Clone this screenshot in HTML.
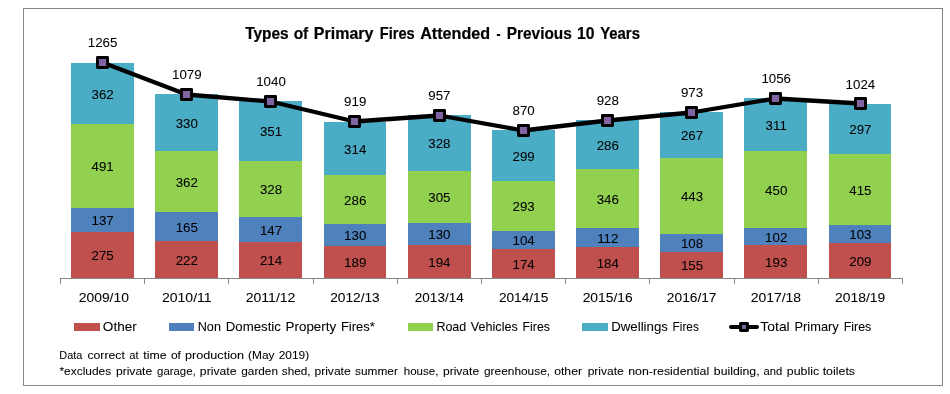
<!DOCTYPE html>
<html><head><meta charset="utf-8"><style>
html,body{margin:0;padding:0;background:#fff;width:950px;height:394px;overflow:hidden}
svg{display:block;will-change:transform}
text{font-family:"Liberation Sans", sans-serif;fill:#000}
.l{font-size:13.3px;stroke:#000;stroke-width:0.06px}
.t{font-size:16.2px;font-weight:bold;stroke:#000;stroke-width:0.2px}
.f{font-size:11.6px;stroke:#000;stroke-width:0.06px}
</style></head><body>
<svg width="950" height="394" viewBox="0 0 950 394">
<rect x="23.5" y="8.5" width="919" height="377" fill="#fff" stroke="#868686" stroke-width="1"/>
<rect x="71" y="232" width="63" height="46" fill="#C0504D"/>
<rect x="71" y="208" width="63" height="24" fill="#4F81BD"/>
<rect x="71" y="124" width="63" height="84" fill="#92D050"/>
<rect x="71" y="63" width="63" height="61" fill="#4BACC6"/>
<rect x="155" y="241" width="63" height="37" fill="#C0504D"/>
<rect x="155" y="212" width="63" height="29" fill="#4F81BD"/>
<rect x="155" y="151" width="63" height="61" fill="#92D050"/>
<rect x="155" y="94" width="63" height="57" fill="#4BACC6"/>
<rect x="239" y="242" width="63" height="36" fill="#C0504D"/>
<rect x="239" y="217" width="63" height="25" fill="#4F81BD"/>
<rect x="239" y="161" width="63" height="56" fill="#92D050"/>
<rect x="239" y="101" width="63" height="60" fill="#4BACC6"/>
<rect x="324" y="246" width="62" height="32" fill="#C0504D"/>
<rect x="324" y="224" width="62" height="22" fill="#4F81BD"/>
<rect x="324" y="175" width="62" height="49" fill="#92D050"/>
<rect x="324" y="122" width="62" height="53" fill="#4BACC6"/>
<rect x="408" y="245" width="63" height="33" fill="#C0504D"/>
<rect x="408" y="223" width="63" height="22" fill="#4F81BD"/>
<rect x="408" y="171" width="63" height="52" fill="#92D050"/>
<rect x="408" y="115" width="63" height="56" fill="#4BACC6"/>
<rect x="492" y="249" width="63" height="29" fill="#C0504D"/>
<rect x="492" y="231" width="63" height="18" fill="#4F81BD"/>
<rect x="492" y="181" width="63" height="50" fill="#92D050"/>
<rect x="492" y="130" width="63" height="51" fill="#4BACC6"/>
<rect x="576" y="247" width="63" height="31" fill="#C0504D"/>
<rect x="576" y="228" width="63" height="19" fill="#4F81BD"/>
<rect x="576" y="169" width="63" height="59" fill="#92D050"/>
<rect x="576" y="120" width="63" height="49" fill="#4BACC6"/>
<rect x="660" y="252" width="63" height="26" fill="#C0504D"/>
<rect x="660" y="234" width="63" height="18" fill="#4F81BD"/>
<rect x="660" y="158" width="63" height="76" fill="#92D050"/>
<rect x="660" y="112" width="63" height="46" fill="#4BACC6"/>
<rect x="744" y="245" width="63" height="33" fill="#C0504D"/>
<rect x="744" y="228" width="63" height="17" fill="#4F81BD"/>
<rect x="744" y="151" width="63" height="77" fill="#92D050"/>
<rect x="744" y="98" width="63" height="53" fill="#4BACC6"/>
<rect x="829" y="243" width="62" height="35" fill="#C0504D"/>
<rect x="829" y="225" width="62" height="18" fill="#4F81BD"/>
<rect x="829" y="154" width="62" height="71" fill="#92D050"/>
<rect x="829" y="104" width="62" height="50" fill="#4BACC6"/>
<path d="M60.0 278.5 H903.0" stroke="#868686" stroke-width="1" fill="none"/>
<path d="M60.5 278.0 V284.0" stroke="#868686" stroke-width="1" fill="none"/>
<path d="M144.5 278.0 V284.0" stroke="#868686" stroke-width="1" fill="none"/>
<path d="M228.5 278.0 V284.0" stroke="#868686" stroke-width="1" fill="none"/>
<path d="M313.5 278.0 V284.0" stroke="#868686" stroke-width="1" fill="none"/>
<path d="M397.5 278.0 V284.0" stroke="#868686" stroke-width="1" fill="none"/>
<path d="M481.5 278.0 V284.0" stroke="#868686" stroke-width="1" fill="none"/>
<path d="M565.5 278.0 V284.0" stroke="#868686" stroke-width="1" fill="none"/>
<path d="M649.5 278.0 V284.0" stroke="#868686" stroke-width="1" fill="none"/>
<path d="M734.5 278.0 V284.0" stroke="#868686" stroke-width="1" fill="none"/>
<path d="M818.5 278.0 V284.0" stroke="#868686" stroke-width="1" fill="none"/>
<path d="M902.5 278.0 V284.0" stroke="#868686" stroke-width="1" fill="none"/>
<text x="102.60" y="260" text-anchor="middle" class="l">275</text>
<text x="102.60" y="225" text-anchor="middle" class="l">137</text>
<text x="102.60" y="171" text-anchor="middle" class="l">491</text>
<text x="102.60" y="99" text-anchor="middle" class="l">362</text>
<text x="186.80" y="265" text-anchor="middle" class="l">222</text>
<text x="186.80" y="232" text-anchor="middle" class="l">165</text>
<text x="186.80" y="187" text-anchor="middle" class="l">362</text>
<text x="186.80" y="128" text-anchor="middle" class="l">330</text>
<text x="271.00" y="265" text-anchor="middle" class="l">214</text>
<text x="271.00" y="235" text-anchor="middle" class="l">147</text>
<text x="271.00" y="194" text-anchor="middle" class="l">328</text>
<text x="271.00" y="136" text-anchor="middle" class="l">351</text>
<text x="355.20" y="267" text-anchor="middle" class="l">189</text>
<text x="355.20" y="240" text-anchor="middle" class="l">130</text>
<text x="355.20" y="205" text-anchor="middle" class="l">286</text>
<text x="355.20" y="154" text-anchor="middle" class="l">314</text>
<text x="439.40" y="267" text-anchor="middle" class="l">194</text>
<text x="439.40" y="239" text-anchor="middle" class="l">130</text>
<text x="439.40" y="202" text-anchor="middle" class="l">305</text>
<text x="439.40" y="148" text-anchor="middle" class="l">328</text>
<text x="523.60" y="269" text-anchor="middle" class="l">174</text>
<text x="523.60" y="245" text-anchor="middle" class="l">104</text>
<text x="523.60" y="211" text-anchor="middle" class="l">293</text>
<text x="523.60" y="161" text-anchor="middle" class="l">299</text>
<text x="607.80" y="268" text-anchor="middle" class="l">184</text>
<text x="607.80" y="243" text-anchor="middle" class="l">112</text>
<text x="607.80" y="204" text-anchor="middle" class="l">346</text>
<text x="607.80" y="150" text-anchor="middle" class="l">286</text>
<text x="692.00" y="270" text-anchor="middle" class="l">155</text>
<text x="692.00" y="248" text-anchor="middle" class="l">108</text>
<text x="692.00" y="201" text-anchor="middle" class="l">443</text>
<text x="692.00" y="140" text-anchor="middle" class="l">267</text>
<text x="776.20" y="267" text-anchor="middle" class="l">193</text>
<text x="776.20" y="242" text-anchor="middle" class="l">102</text>
<text x="776.20" y="195" text-anchor="middle" class="l">450</text>
<text x="776.20" y="130" text-anchor="middle" class="l">311</text>
<text x="860.40" y="266" text-anchor="middle" class="l">209</text>
<text x="860.40" y="239" text-anchor="middle" class="l">103</text>
<text x="860.40" y="195" text-anchor="middle" class="l">415</text>
<text x="860.40" y="134" text-anchor="middle" class="l">297</text>
<polyline points="102.50,62.50 186.50,94.50 270.50,101.50 354.50,121.50 439.50,115.50 523.50,130.50 607.50,120.50 691.50,112.50 775.50,98.50 860.50,103.50" fill="none" stroke="#000" stroke-width="4.3" stroke-linejoin="round"/>
<rect x="97.45" y="57.45" width="10.1" height="10.1" fill="#8064A2" stroke="#000" stroke-width="2.9" stroke-linejoin="round"/>
<text x="102.60" y="47" text-anchor="middle" class="l">1265</text>
<rect x="181.45" y="89.45" width="10.1" height="10.1" fill="#8064A2" stroke="#000" stroke-width="2.9" stroke-linejoin="round"/>
<text x="186.80" y="79" text-anchor="middle" class="l">1079</text>
<rect x="265.45" y="96.45" width="10.1" height="10.1" fill="#8064A2" stroke="#000" stroke-width="2.9" stroke-linejoin="round"/>
<text x="271.00" y="86" text-anchor="middle" class="l">1040</text>
<rect x="349.45" y="116.45" width="10.1" height="10.1" fill="#8064A2" stroke="#000" stroke-width="2.9" stroke-linejoin="round"/>
<text x="355.20" y="106" text-anchor="middle" class="l">919</text>
<rect x="434.45" y="110.45" width="10.1" height="10.1" fill="#8064A2" stroke="#000" stroke-width="2.9" stroke-linejoin="round"/>
<text x="439.40" y="100" text-anchor="middle" class="l">957</text>
<rect x="518.45" y="125.45" width="10.1" height="10.1" fill="#8064A2" stroke="#000" stroke-width="2.9" stroke-linejoin="round"/>
<text x="523.60" y="115" text-anchor="middle" class="l">870</text>
<rect x="602.45" y="115.45" width="10.1" height="10.1" fill="#8064A2" stroke="#000" stroke-width="2.9" stroke-linejoin="round"/>
<text x="607.80" y="105" text-anchor="middle" class="l">928</text>
<rect x="686.45" y="107.45" width="10.1" height="10.1" fill="#8064A2" stroke="#000" stroke-width="2.9" stroke-linejoin="round"/>
<text x="692.00" y="97" text-anchor="middle" class="l">973</text>
<rect x="770.45" y="93.45" width="10.1" height="10.1" fill="#8064A2" stroke="#000" stroke-width="2.9" stroke-linejoin="round"/>
<text x="776.20" y="83" text-anchor="middle" class="l">1056</text>
<rect x="855.45" y="98.45" width="10.1" height="10.1" fill="#8064A2" stroke="#000" stroke-width="2.9" stroke-linejoin="round"/>
<text x="860.40" y="89" text-anchor="middle" class="l">1024</text>
<rect x="74" y="323" width="26" height="8" fill="#C0504D"/>
<rect x="169" y="323" width="25" height="8" fill="#4F81BD"/>
<rect x="408" y="323" width="25" height="8" fill="#92D050"/>
<rect x="582" y="323" width="26" height="8" fill="#4BACC6"/>
<path d="M731 327 H757" stroke="#000" stroke-width="4" stroke-linecap="round"/>
<rect x="740.5" y="323.5" width="7" height="7" fill="#8064A2" stroke="#000" stroke-width="2.9" stroke-linejoin="round"/>
<text x="59.32" y="358.8" class="f" textLength="22.92" lengthAdjust="spacingAndGlyphs">Data</text>
<text x="87.41" y="358.8" class="f" textLength="37.45" lengthAdjust="spacingAndGlyphs">correct</text>
<text x="129.26" y="358.8" class="f" textLength="9.30" lengthAdjust="spacingAndGlyphs">at</text>
<text x="143.36" y="358.8" class="f" textLength="23.16" lengthAdjust="spacingAndGlyphs">time</text>
<text x="170.90" y="358.8" class="f" textLength="10.04" lengthAdjust="spacingAndGlyphs">of</text>
<text x="184.93" y="358.8" class="f" textLength="59.13" lengthAdjust="spacingAndGlyphs">production</text>
<text x="248.06" y="358.8" class="f" textLength="26.52" lengthAdjust="spacingAndGlyphs">(May</text>
<text x="278.74" y="358.8" class="f" textLength="30.39" lengthAdjust="spacingAndGlyphs">2019)</text>
<text x="59.47" y="374.7" class="f" textLength="51.69" lengthAdjust="spacingAndGlyphs">*excludes</text>
<text x="115.93" y="374.7" class="f" textLength="36.29" lengthAdjust="spacingAndGlyphs">private</text>
<text x="157.07" y="374.7" class="f" textLength="38.59" lengthAdjust="spacingAndGlyphs">garage,</text>
<text x="199.85" y="374.7" class="f" textLength="36.65" lengthAdjust="spacingAndGlyphs">private</text>
<text x="241.28" y="374.7" class="f" textLength="36.73" lengthAdjust="spacingAndGlyphs">garden</text>
<text x="281.81" y="374.7" class="f" textLength="28.72" lengthAdjust="spacingAndGlyphs">shed,</text>
<text x="314.41" y="374.7" class="f" textLength="36.31" lengthAdjust="spacingAndGlyphs">private</text>
<text x="355.09" y="374.7" class="f" textLength="42.81" lengthAdjust="spacingAndGlyphs">summer</text>
<text x="403.77" y="374.7" class="f" textLength="34.64" lengthAdjust="spacingAndGlyphs">house,</text>
<text x="442.94" y="374.7" class="f" textLength="36.17" lengthAdjust="spacingAndGlyphs">private</text>
<text x="484.00" y="374.7" class="f" textLength="66.06" lengthAdjust="spacingAndGlyphs">greenhouse,</text>
<text x="554.18" y="374.7" class="f" textLength="27.87" lengthAdjust="spacingAndGlyphs">other</text>
<text x="587.65" y="374.7" class="f" textLength="36.19" lengthAdjust="spacingAndGlyphs">private</text>
<text x="628.24" y="374.7" class="f" textLength="80.94" lengthAdjust="spacingAndGlyphs">non-residential</text>
<text x="713.82" y="374.7" class="f" textLength="45.77" lengthAdjust="spacingAndGlyphs">building,</text>
<text x="763.54" y="374.7" class="f" textLength="18.71" lengthAdjust="spacingAndGlyphs">and</text>
<text x="786.79" y="374.7" class="f" textLength="32.33" lengthAdjust="spacingAndGlyphs">public</text>
<text x="822.69" y="374.7" class="f" textLength="32.33" lengthAdjust="spacingAndGlyphs">toilets</text>
<text x="245.15" y="38.5" class="t" textLength="43.57" lengthAdjust="spacingAndGlyphs">Types</text>
<text x="293.66" y="38.5" class="t" textLength="14.62" lengthAdjust="spacingAndGlyphs">of</text>
<text x="313.87" y="38.5" class="t" textLength="59.52" lengthAdjust="spacingAndGlyphs">Primary</text>
<text x="379.80" y="38.5" class="t" textLength="34.96" lengthAdjust="spacingAndGlyphs">Fires</text>
<text x="420.14" y="38.5" class="t" textLength="70.02" lengthAdjust="spacingAndGlyphs">Attended</text>
<text x="496.42" y="38.5" class="t" textLength="4.05" lengthAdjust="spacingAndGlyphs">-</text>
<text x="506.78" y="38.5" class="t" textLength="65.04" lengthAdjust="spacingAndGlyphs">Previous</text>
<text x="576.96" y="38.5" class="t" textLength="17.48" lengthAdjust="spacingAndGlyphs">10</text>
<text x="600.15" y="38.5" class="t" textLength="39.83" lengthAdjust="spacingAndGlyphs">Years</text>
<text x="102.84" y="331" class="l" textLength="33.99" lengthAdjust="spacingAndGlyphs">Other</text>
<text x="197.74" y="331" class="l" textLength="23.23" lengthAdjust="spacingAndGlyphs">Non</text>
<text x="225.68" y="331" class="l" textLength="55.28" lengthAdjust="spacingAndGlyphs">Domestic</text>
<text x="285.58" y="331" class="l" textLength="50.53" lengthAdjust="spacingAndGlyphs">Property</text>
<text x="340.93" y="331" class="l" textLength="33.98" lengthAdjust="spacingAndGlyphs">Fires*</text>
<text x="436.38" y="331" class="l" textLength="29.86" lengthAdjust="spacingAndGlyphs">Road</text>
<text x="470.84" y="331" class="l" textLength="46.92" lengthAdjust="spacingAndGlyphs">Vehicles</text>
<text x="522.53" y="331" class="l" textLength="27.43" lengthAdjust="spacingAndGlyphs">Fires</text>
<text x="611.18" y="331" class="l" textLength="56.79" lengthAdjust="spacingAndGlyphs">Dwellings</text>
<text x="672.56" y="331" class="l" textLength="26.27" lengthAdjust="spacingAndGlyphs">Fires</text>
<text x="760.35" y="331" class="l" textLength="29.36" lengthAdjust="spacingAndGlyphs">Total</text>
<text x="794.52" y="331" class="l" textLength="44.24" lengthAdjust="spacingAndGlyphs">Primary</text>
<text x="843.77" y="331" class="l" textLength="27.47" lengthAdjust="spacingAndGlyphs">Fires</text>
<text x="78.75" y="301.8" class="l" textLength="50.14" lengthAdjust="spacingAndGlyphs">2009/10</text>
<text x="161.93" y="301.8" class="l" textLength="49.76" lengthAdjust="spacingAndGlyphs">2010/11</text>
<text x="245.73" y="301.8" class="l" textLength="49.67" lengthAdjust="spacingAndGlyphs">2011/12</text>
<text x="330.17" y="301.8" class="l" textLength="49.61" lengthAdjust="spacingAndGlyphs">2012/13</text>
<text x="414.87" y="301.8" class="l" textLength="48.80" lengthAdjust="spacingAndGlyphs">2013/14</text>
<text x="498.91" y="301.8" class="l" textLength="49.37" lengthAdjust="spacingAndGlyphs">2014/15</text>
<text x="582.66" y="301.8" class="l" textLength="50.03" lengthAdjust="spacingAndGlyphs">2015/16</text>
<text x="666.88" y="301.8" class="l" textLength="49.65" lengthAdjust="spacingAndGlyphs">2016/17</text>
<text x="750.75" y="301.8" class="l" textLength="50.36" lengthAdjust="spacingAndGlyphs">2017/18</text>
<text x="835.13" y="301.8" class="l" textLength="50.10" lengthAdjust="spacingAndGlyphs">2018/19</text>
</svg>
</body></html>
